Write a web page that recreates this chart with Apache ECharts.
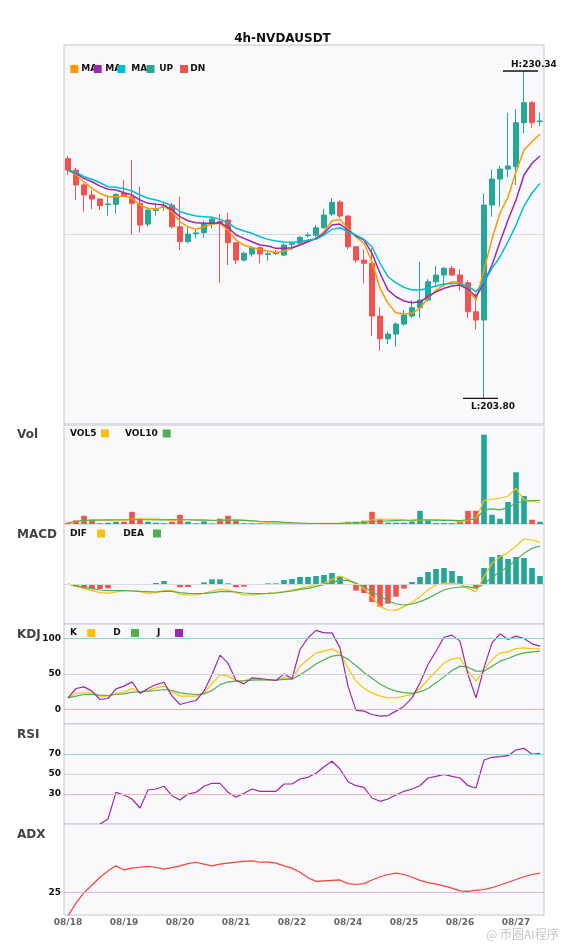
<!DOCTYPE html>
<html>
<head>
<meta charset="utf-8">
<title>4h-NVDAUSDT</title>
<script src="https://cdn.jsdelivr.net/npm/echarts/dist/echarts.min.js"></script>
<style>
html, body { margin: 0; padding: 0; background: #fff; }
#main { width: 565px; height: 950px; }
</style>
</head>
<body>
<div id="main"></div>
<script>
// 4h K线时间
var times = [
    '08/18 04:00', '08/18 08:00', '08/18 12:00', '08/18 16:00', '08/18 20:00',
    '08/19 00:00', '08/19 04:00', '08/19 08:00', '08/19 12:00', '08/19 16:00', '08/19 20:00',
    '08/20 00:00', '08/20 04:00', '08/20 08:00', '08/20 12:00', '08/20 16:00', '08/20 20:00',
    '08/21 00:00', '08/21 04:00', '08/21 08:00', '08/21 12:00', '08/21 16:00', '08/21 20:00',
    '08/22 00:00', '08/22 04:00', '08/22 08:00', '08/22 12:00', '08/22 16:00', '08/22 20:00',
    '08/23 00:00', '08/23 04:00', '08/23 08:00', '08/23 12:00', '08/23 16:00', '08/23 20:00',
    '08/24 00:00', '08/24 04:00', '08/24 08:00', '08/24 12:00', '08/24 16:00', '08/24 20:00',
    '08/25 00:00', '08/25 04:00', '08/25 08:00', '08/25 12:00', '08/25 16:00', '08/25 20:00',
    '08/26 00:00', '08/26 04:00', '08/26 08:00', '08/26 12:00', '08/26 16:00', '08/26 20:00',
    '08/27 00:00', '08/27 04:00', '08/27 08:00', '08/27 12:00', '08/27 16:00', '08/27 20:00',
    '08/28 00:00'
];

var opens = [
    223.23, 222.31, 221.10, 220.29, 219.96, 219.50, 219.53, 220.42, 220.15, 219.61,
    217.93, 219.03, 219.30, 219.47, 217.71, 216.50, 217.15, 217.23, 217.93, 218.14,
    218.26, 216.42, 215.01, 215.50, 216.01, 215.47, 215.59, 215.42, 216.28, 216.37,
    216.99, 217.02, 217.63, 218.74, 219.72, 218.58, 216.09, 215.01, 214.75, 210.47,
    208.63, 209.01, 209.82, 210.47, 211.15, 211.77, 213.25, 213.80, 214.34, 213.80,
    213.17, 210.82, 210.15, 219.47, 221.58, 222.39, 222.58, 226.15, 227.77, 226.23
];
var closes = [
    222.31, 221.10, 220.29, 219.96, 219.42, 219.56, 220.34, 220.20, 219.61, 217.85,
    219.07, 219.10, 219.37, 217.71, 216.50, 217.12, 217.21, 217.93, 218.34, 218.01,
    216.42, 215.01, 215.56, 216.01, 215.50, 215.53, 215.53, 216.23, 216.34, 216.85,
    217.05, 217.63, 218.66, 219.69, 218.58, 216.09, 215.01, 214.75, 210.47, 208.63,
    209.01, 209.82, 210.55, 211.15, 211.77, 213.25, 213.80, 214.34, 213.80, 213.17,
    210.82, 210.15, 219.47, 221.58, 222.39, 222.64, 226.15, 227.77, 226.15, 226.29
];
var lows = [
    221.93, 219.88, 218.93, 219.15, 219.07, 218.61, 218.77, 220.15, 217.10, 217.23,
    217.71, 218.61, 218.99, 217.58, 215.83, 216.37, 216.77, 216.82, 217.58, 213.17,
    214.61, 214.69, 214.88, 215.28, 214.75, 214.96, 215.42, 215.34, 215.83, 216.15,
    216.82, 216.84, 217.55, 218.58, 218.40, 215.88, 214.80, 213.12, 208.85, 207.66,
    208.20, 207.98, 209.66, 210.29, 210.29, 211.63, 212.99, 212.85, 213.72, 212.52,
    210.29, 209.39, 203.80, 218.53, 219.34, 221.72, 221.10, 225.29, 225.74, 225.88
];
var highs = [
    223.45, 222.50, 221.26, 220.69, 219.98, 220.29, 220.45, 221.50, 223.12, 220.96,
    219.13, 219.61, 219.74, 219.64, 220.15, 217.77, 217.50, 218.20, 218.53, 218.74,
    218.85, 216.45, 215.69, 216.15, 216.11, 215.69, 215.83, 216.37, 216.45, 216.96,
    217.26, 217.85, 219.17, 220.02, 219.86, 218.66, 216.15, 215.88, 215.96, 211.18,
    209.20, 209.96, 210.96, 211.77, 214.88, 213.47, 214.53, 214.47, 214.53, 214.26,
    213.39, 212.31, 220.42, 222.37, 222.66, 226.96, 227.26, 230.34, 227.91, 226.96
];

var ma5 = [
    222.31, 221.91, 221.36, 220.83, 220.42, 220.15, 220.15, 220.20, 220.02, 219.47,
    219.21, 219.15, 219.34, 218.93, 218.12, 217.71, 217.50, 217.71, 217.93, 217.99,
    217.45, 216.64, 216.23, 216.01, 215.88, 215.74, 215.61, 215.74, 215.96, 216.31,
    216.58, 216.77, 217.31, 218.20, 218.31, 217.59, 216.90, 216.37, 214.88, 212.72,
    211.50, 210.74, 210.64, 210.69, 211.10, 211.91, 212.58, 212.99, 213.25, 213.17,
    212.58, 211.77, 214.20, 216.72, 218.83, 220.12, 222.17, 223.93, 224.61, 225.21
];
var ma10 = [
    222.31, 222.04, 221.64, 221.36, 221.01, 220.75, 220.69, 220.47, 220.29, 219.88,
    219.61, 219.53, 219.47, 219.07, 218.53, 218.20, 218.04, 217.99, 217.99, 218.04,
    217.67, 217.04, 216.77, 216.50, 216.23, 216.15, 215.96, 215.96, 216.01, 216.23,
    216.50, 216.77, 217.18, 217.85, 217.93, 217.45, 216.96, 216.64, 215.56, 213.94,
    212.58, 212.04, 211.69, 211.55, 211.63, 212.04, 212.44, 212.72, 212.91, 212.99,
    212.64, 212.04, 213.15, 214.61, 216.47, 218.26, 219.88, 221.91, 222.86, 223.45
];
var ma20 = [
    222.31, 222.13, 221.77, 221.56, 221.28, 220.96, 220.91, 220.80, 220.61, 220.29,
    220.02, 219.88, 219.69, 219.42, 218.93, 218.74, 218.58, 218.53, 218.48, 218.31,
    218.04, 217.59, 217.37, 217.18, 216.90, 216.69, 216.56, 216.47, 216.45, 216.50,
    216.64, 216.69, 217.04, 217.50, 217.63, 217.31, 217.04, 216.69, 216.09, 214.75,
    213.66, 213.17, 212.80, 212.58, 212.58, 212.72, 212.91, 213.07, 213.12, 213.12,
    212.91, 212.44, 213.23, 214.34, 215.28, 216.50, 217.85, 219.39, 220.45, 221.23
];

// 成交量
var vols = [
    13, 37, 83, 43, 7, 13, 23, 23, 123, 53,
    23, 13, 7, 23, 93, 23, 7, 27, 5, 53,
    83, 33, 7, 7, 7, 5, 5, 5, 5, 5,
    5, 5, 10, 10, 10, 23, 23, 33, 123, 50,
    13, 13, 13, 27, 133, 33, 10, 10, 10, 27,
    133, 133, 903, 93, 53, 223, 523, 283, 43, 23
];
var vol5 = [
    10, 27, 33, 40, 43, 37, 33, 33, 50, 53,
    53, 50, 43, 33, 43, 43, 43, 43, 33, 37,
    43, 43, 40, 33, 23, 13, 8, 6, 5, 5,
    5, 5, 6, 7, 8, 11, 15, 20, 43, 50,
    48, 47, 43, 30, 40, 43, 43, 40, 37, 22,
    38, 57, 237, 250, 260, 283, 360, 243, 227, 217
];
var vol10 = [
    10, 25, 37, 40, 40, 42, 43, 43, 43, 45,
    43, 42, 42, 45, 43, 43, 40, 40, 38, 38,
    40, 40, 36, 32, 28, 25, 23, 17, 13, 10,
    7, 5, 5, 5, 6, 8, 11, 14, 27, 30,
    32, 35, 38, 40, 43, 40, 40, 37, 37, 35,
    43, 50, 143, 153, 143, 167, 210, 230, 237, 240
];

// MACD
var macdBar = [
    0, -0.053, -0.087, -0.1, -0.1, -0.087, -0.013, 0, 0, -0.013,
    -0.013, 0.02, 0.06, -0.013, -0.067, -0.06, -0.013, 0.033, 0.093, 0.093,
    0.013, -0.067, -0.053, -0.013, -0.007, 0.013, 0.013, 0.08, 0.1, 0.14,
    0.14, 0.16, 0.18, 0.22, 0.16, -0.013, -0.133, -0.18, -0.36, -0.453,
    -0.393, -0.253, -0.093, 0.04, 0.14, 0.24, 0.3, 0.32, 0.26, 0.16,
    -0.01, -0.073, 0.32, 0.54, 0.58, 0.5, 0.54, 0.52, 0.32, 0.16
];
var dif = [
    0, -0.053, -0.087, -0.133, -0.173, -0.187, -0.16, -0.133, -0.133, -0.153,
    -0.187, -0.173, -0.133, -0.133, -0.207, -0.22, -0.22, -0.187, -0.14, -0.107,
    -0.12, -0.173, -0.22, -0.22, -0.2, -0.187, -0.173, -0.153, -0.12, -0.087,
    -0.053, -0.02, 0.013, 0.093, 0.16, 0.093, 0.013, -0.093, -0.267, -0.453,
    -0.52, -0.527, -0.453, -0.367, -0.253, -0.12, -0.02, 0.013, 0.013, 0,
    -0.087, -0.153, 0.147, 0.413, 0.547, 0.627, 0.76, 0.9, 0.88, 0.833
];
var dea = [
    0, -0.033, -0.067, -0.093, -0.12, -0.133, -0.133, -0.133, -0.14, -0.147,
    -0.153, -0.16, -0.147, -0.147, -0.173, -0.187, -0.193, -0.187, -0.173, -0.153,
    -0.147, -0.16, -0.18, -0.193, -0.193, -0.187, -0.18, -0.16, -0.14, -0.107,
    -0.087, -0.053, -0.007, 0.033, 0.073, 0.073, 0.013, -0.053, -0.153, -0.24,
    -0.333, -0.4, -0.42, -0.4, -0.353, -0.287, -0.2, -0.12, -0.08, -0.06,
    -0.053, -0.087, 0, 0.133, 0.247, 0.347, 0.48, 0.613, 0.713, 0.76
];

// KDJ
var kdjK = [
    16.6, 22.7, 23.6, 23.6, 19, 19, 22.7, 24.6, 29.7, 25,
    26.9, 30.6, 33, 25, 19, 19, 19, 23.6, 36.7, 48.8,
    47, 40.9, 40.9, 43.7, 42.3, 41.4, 41.4, 44.6, 43.2, 60.9,
    70.3, 79.6, 82, 85.2, 79.6, 58.6, 40, 29.7, 23.6, 19,
    16.6, 16.6, 19, 21.3, 29.7, 42.3, 53.9, 65.6, 71.2, 72.6,
    53.9, 40, 56.3, 70.3, 79.6, 81, 85.6, 86.6, 85.6, 85.2
];
var kdjD = [
    16.6, 19, 21.3, 21.3, 20.4, 19.9, 21.3, 22.2, 24.6, 25,
    26, 26.9, 28.3, 26.9, 23.6, 22.2, 21.3, 22.2, 26.9, 35,
    39, 40, 40.3, 41.4, 41.7, 41.6, 41.5, 42.5, 42.7, 48.8,
    56, 63.9, 69.9, 75, 76.5, 70.5, 62, 52, 44, 36,
    30, 26, 24, 23, 25, 29.7, 37.6, 46, 54.9, 61,
    59.5, 54, 54, 61, 68, 71.7, 76.4, 79.6, 81, 82
];
var kdjJ = [
    16.6, 29.7, 32, 26, 14.3, 15.7, 29.2, 33, 39, 22.7,
    29.7, 35.3, 38.5, 19, 7.3, 10.5, 12.9, 26, 49.3, 76.4,
    65.2, 40.9, 36.2, 44.6, 43.7, 42.3, 40.9, 50.2, 43.2, 84.3,
    100.6, 111, 107.6, 107.6, 86.6, 33, -1, -2, -6.7, -9,
    -8.2, -2, 5, 16.6, 37.6, 63.3, 81.9, 101.5, 104.4, 96,
    49.3, 16.6, 58.6, 93.6, 106.3, 98.4, 103, 99.7, 92.2, 89
];

var rsi = [
    null, null, null, null, 0, 5, 31.7, 29, 25, 16,
    34, 35, 37.7, 28.3, 24, 30, 31.7, 37.7, 40.7, 40.7,
    31.7, 26.7, 30.7, 35, 32.7, 32.7, 32.7, 40, 40, 45,
    46.7, 50.7, 57.3, 62.7, 55, 42.3, 38.3, 36.7, 26, 22.7,
    25, 29, 32.7, 35, 38.3, 46, 47.7, 49.7, 47.7, 46,
    38.3, 36, 64, 66.7, 67.3, 68.3, 74, 75.7, 69.7, 70.7
];

var adx = [
    19.8, 22.6, 24.9, 26.6, 28.3, 29.7, 30.8, 29.9, 30.3, 30.5,
    30.7, 30.5, 30.1, 30.4, 30.8, 31.3, 31.6, 31.2, 30.8, 31.2,
    31.4, 31.6, 31.8, 31.9, 31.6, 31.6, 31.4, 30.8, 30.3, 29.4,
    28.2, 27.4, 27.5, 27.6, 27.7, 26.9, 26.7, 26.9, 27.7, 28.4,
    28.9, 29.2, 28.9, 28.3, 27.6, 27.1, 26.8, 26.4, 25.9, 25.3,
    25.2, 25.4, 25.6, 26.0, 26.6, 27.2, 27.8, 28.4, 28.9, 29.2
];

var UP = '#26A69A', DN = '#EF5350';
var FONT = 'DejaVu Sans';

var myChart = echarts.init(document.getElementById('main'));

var candleData = opens.map(function (o, i) {
    return [o, closes[i], lows[i], highs[i]];
});
var hiIdx = highs.indexOf(Math.max.apply(null, highs));
var loIdx = lows.indexOf(Math.min.apply(null, lows));

// 各面板位置
var panels = [
    {top: 45, height: 379},
    {top: 425, height: 99},
    {top: 524, height: 100},
    {top: 624, height: 100},
    {top: 724, height: 100},
    {top: 824, height: 91}
];

var grids = panels.map(function (p) {
    return {
        left: 64, right: 21, top: p.top, height: p.height,
        show: true, backgroundColor: '#f9f9fb',
        borderColor: '#c4c4cc', borderWidth: 1
    };
});

var xAxes = panels.map(function (p, i) {
    return {
        type: 'category', gridIndex: i, data: times, boundaryGap: true,
        axisLine: {show: false}, axisTick: {show: false},
        splitLine: {show: false},
        axisLabel: {
            show: i === panels.length - 1, interval: 6, margin: 3,
            color: '#666', fontWeight: 'bold', fontSize: 9, fontFamily: FONT,
            formatter: function (v) { return v.substring(0, 5); }
        }
    };
});

function valueAxis(idx, min, max, extra) {
    var ax = {
        type: 'value', gridIndex: idx, min: min, max: max,
        axisLine: {show: false}, axisTick: {show: false},
        axisLabel: {show: false}, splitLine: {show: false}
    };
    if (extra) {
        for (var k in extra) ax[k] = extra[k];
    }
    return ax;
}

var yAxes = [
    valueAxis(0, 201.72, 232.45, {interval: 15.365, splitLine: {show: true, lineStyle: {color: '#dcdce0'}}}),
    valueAxis(1, 0, 1000),
    valueAxis(2, -0.8, 1.2),
    valueAxis(3, -20, 120),
    valueAxis(4, 0, 100),
    valueAxis(5, 20, 40)
];

function refLines(list, showLabel) {
    return {
        silent: true, symbol: ['none', 'none'], animation: false,
        label: {
            show: showLabel, position: 'start', distance: 3, formatter: '{c}',
            color: '#111', fontSize: 9, fontWeight: 'bold', fontFamily: FONT
        },
        data: list.map(function (r) {
            return {yAxis: r[0], lineStyle: {color: r[1], width: 1, type: 'solid'}};
        })
    };
}

function line(name, data, color, xi, width, extra) {
    var s = {
        name: name, type: 'line', data: data,
        xAxisIndex: xi, yAxisIndex: xi,
        showSymbol: false, symbol: 'none',
        lineStyle: {color: color, width: width || 1.2},
        itemStyle: {color: color}
    };
    if (extra) {
        for (var k in extra) s[k] = extra[k];
    }
    return s;
}

// 图例与面板标题
var graphics = [];
function gText(x, y, text, font, fill, z) {
    graphics.push({
        type: 'text', x: x, y: y, z: z || 100, silent: true,
        style: {text: text, font: font, fill: fill, verticalAlign: 'middle', align: 'left'}
    });
}
function gBox(x, y, color, size) {
    graphics.push({
        type: 'rect', z: 101, silent: true,
        shape: {x: x, y: y, width: size || 8, height: size || 8},
        style: {fill: color}
    });
}
var legendFont = 'bold 9px "' + FONT + '"';
var titleFont = 'bold 12px "' + FONT + '"';

gText(81.3, 69, 'MA', legendFont, '#111');
gText(105.3, 69, 'MA', legendFont, '#111');
gText(131.3, 69, 'MA', legendFont, '#111');
gText(159.3, 69, 'UP', legendFont, '#111');
gText(190.3, 69, 'DN', legendFont, '#111');
gBox(70.3, 65, '#FF9800');
gBox(93.7, 65, '#9C27B0');
gBox(117.3, 65, '#00BCD4');
gBox(146.5, 65, UP);
gBox(180, 65, DN);

gText(70, 433.5, 'VOL5', legendFont, '#111');
gBox(101, 429.5, '#FFC107');
gText(125, 433.5, 'VOL10', legendFont, '#111');
gBox(162.7, 429.5, '#4CAF50');

gText(70, 533.5, 'DIF', legendFont, '#111');
gBox(97, 529.5, '#FFC107');
gText(123.3, 533.5, 'DEA', legendFont, '#111');
gBox(153, 529.5, '#4CAF50');

gText(70, 633, 'K', legendFont, '#111');
gBox(87.3, 629, '#FFC107');
gText(113.3, 633, 'D', legendFont, '#111');
gBox(131, 629, '#4CAF50');
gText(157, 633, 'J', legendFont, '#111');
gBox(175, 629, '#9C27B0');

gText(17, 434.5, 'Vol', titleFont, '#444');
gText(17, 534.5, 'MACD', titleFont, '#444');
gText(17, 635, 'KDJ', titleFont, '#444');
gText(17, 734.5, 'RSI', titleFont, '#444');
gText(17, 834.5, 'ADX', titleFont, '#444');

gText(486, 934, '@ 币圈AI程序', '12px "Noto Sans CJK SC"', '#c6c6c6');

myChart.setOption(option = {
    animation: false,
    backgroundColor: '#ffffff',
    title: {
        text: '4h-NVDAUSDT', left: 'center', top: 28,
        textStyle: {fontSize: 12, fontWeight: 'bold', color: '#111', fontFamily: FONT}
    },
    grid: grids,
    xAxis: xAxes,
    yAxis: yAxes,
    graphic: graphics,
    series: [
        {
            name: 'K', type: 'candlestick', data: candleData,
            xAxisIndex: 0, yAxisIndex: 0, barWidth: '70%',
            itemStyle: {color: UP, color0: DN, borderColor: UP, borderColor0: DN, borderWidth: 1}
        },
        line('MA5', ma5, '#FF9800', 0, 1.5),
        line('MA10', ma10, '#9C27B0', 0, 1.5),
        line('MA20', ma20, '#00BCD4', 0, 1.5),
        {
            name: 'HL', type: 'custom', xAxisIndex: 0, yAxisIndex: 0,
            clip: false, silent: true, z: 10,
            data: [[hiIdx, highs[hiIdx], 1], [loIdx, lows[loIdx], 0]],
            encode: {x: 0, y: 1},
            renderItem: function (params, api) {
                var pt = api.coord([api.value(0), api.value(1)]);
                var isHi = api.value(2) === 1;
                return {
                    type: 'group',
                    children: [{
                        type: 'line',
                        shape: {x1: pt[0] - 21, y1: pt[1], x2: pt[0] + 14, y2: pt[1]},
                        style: {stroke: '#111', lineWidth: 1.3}
                    }, {
                        type: 'text',
                        x: pt[0] - 13, y: isHi ? pt[1] - 2 : pt[1] + 4,
                        style: {
                            text: (isHi ? 'H:' : 'L:') + api.value(1).toFixed(2),
                            font: 'bold 9px "' + FONT + '"', fill: '#111',
                            verticalAlign: isHi ? 'bottom' : 'top'
                        }
                    }]
                };
            }
        },
        {
            name: 'Vol', type: 'bar', data: vols,
            xAxisIndex: 1, yAxisIndex: 1, barWidth: '70%',
            itemStyle: {
                color: function (p) {
                    return closes[p.dataIndex] >= opens[p.dataIndex] ? UP : DN;
                }
            }
        },
        line('VOL5', vol5, '#FFC107', 1, 1.2),
        line('VOL10', vol10, '#4CAF50', 1, 1.2),
        {
            name: 'MACD', type: 'bar', data: macdBar,
            xAxisIndex: 2, yAxisIndex: 2, barWidth: '70%',
            itemStyle: {
                color: function (p) { return p.value >= 0 ? UP : DN; }
            },
            markLine: refLines([[0, '#d9d9de']], false)
        },
        line('DIF', dif, '#FFC107', 2, 1.2),
        line('DEA', dea, '#4CAF50', 2, 1.2),
        line('K', kdjK, '#FFC107', 3, 1.2, {
            markLine: refLines([[100, '#8fd3cb'], [50, '#cfcfd4'], [0, '#f5b3b3']], true)
        }),
        line('D', kdjD, '#4CAF50', 3, 1.2),
        line('J', kdjJ, '#9C27B0', 3, 1.2),
        line('RSI', rsi, '#9C27B0', 4, 1.2, {
            markLine: refLines([[70, '#8fd3cb'], [50, '#cfcfd4'], [30, '#f5b3b3']], true)
        }),
        line('ADX', adx, '#F44336', 5, 1.2, {
            markLine: refLines([[25, '#d9b3e3']], true)
        })
    ]
});
</script>
</body>
</html>
